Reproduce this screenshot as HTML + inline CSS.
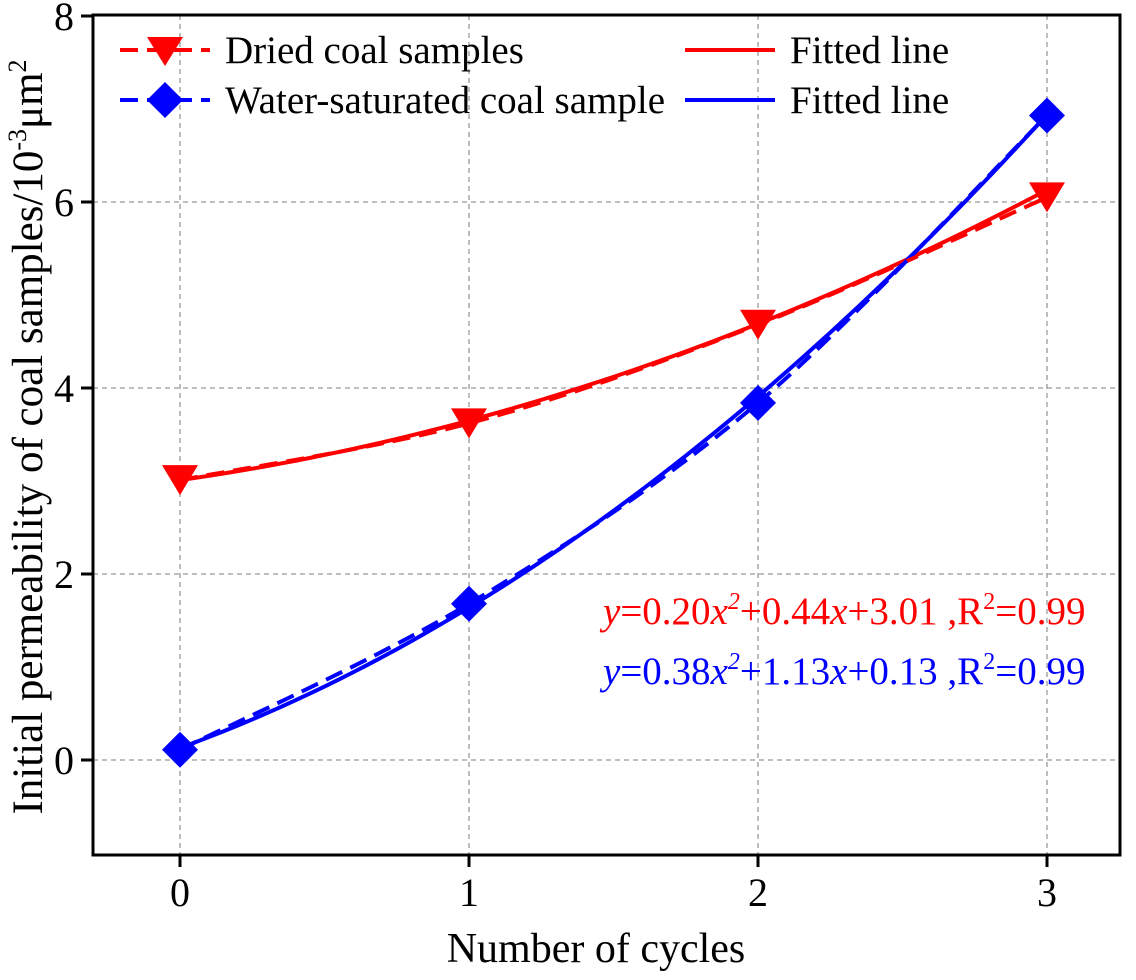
<!DOCTYPE html>
<html><head><meta charset="utf-8"><style>
html,body{margin:0;padding:0;background:#fff;}
svg text{font-family:"Liberation Serif",serif;}
</style></head><body>
<svg id="chart" width="1136" height="975" xmlns="http://www.w3.org/2000/svg">
<g id="grid"></g>
<g id="curves"></g>
<g id="marks"></g>
<rect x="93" y="15" width="1027" height="840" fill="none" stroke="#000" stroke-width="3"/>
<g id="ticks"></g>
<text x="596" y="962" font-size="42" text-anchor="middle">Number of cycles</text>
<text transform="translate(42,437) rotate(-90)" font-size="43" text-anchor="middle">Initial permeability of coal samples/10<tspan font-size="26" dy="-16">-3</tspan><tspan dy="16">μm</tspan><tspan font-size="26" dy="-16">2</tspan></text>
<g>
<g>
<line x1="120" y1="50" x2="210" y2="50" stroke="#f00" stroke-width="4" stroke-dasharray="18,9"/>
<polygon points="147,37 183,37 165,66" fill="#f00"/>
<text x="225" y="63" font-size="39">Dried coal samples</text></g>
<g>
<line x1="120" y1="100" x2="210" y2="100" stroke="#00f" stroke-width="4" stroke-dasharray="18,9"/>
<polygon points="165,82 183,100 165,118 147,100" fill="#00f"/>
<text x="225" y="113" font-size="39">Water-saturated coal sample</text></g>
<g>
<line x1="685" y1="50" x2="775" y2="50" stroke="#f00" stroke-width="4"/>
<text x="790" y="63" font-size="39">Fitted line</text></g>
<g>
<line x1="685" y1="100" x2="775" y2="100" stroke="#00f" stroke-width="4"/>
<text x="790" y="113" font-size="39">Fitted line</text></g>
</g>
<text x="603" y="624" font-size="39" fill="#f00"><tspan font-style="italic">y</tspan>=0.20<tspan font-style="italic">x</tspan><tspan font-size="24" dy="-15" font-style="italic">2</tspan><tspan dy="15">+0.44</tspan><tspan font-style="italic">x</tspan>+3.01 ,R<tspan font-size="24" dy="-15">2</tspan><tspan dy="15">=0.99</tspan></text>
<text x="603" y="684" font-size="39" fill="#00f"><tspan font-style="italic">y</tspan>=0.38<tspan font-style="italic">x</tspan><tspan font-size="24" dy="-15" font-style="italic">2</tspan><tspan dy="15">+1.13</tspan><tspan font-style="italic">x</tspan>+0.13 ,R<tspan font-size="24" dy="-15">2</tspan><tspan dy="15">=0.99</tspan></text>
</svg>
<script>
const cycles=[0,1,2,3];
const dried=[3.01,3.62,4.68,6.05];
const water=[0.11,1.68,3.84,6.93];
const driedFit=[0.20,0.44,3.01];
const waterFit=[0.38,1.13,0.13];
const xTicks=[0,1,2,3];
const yTicks=[0,2,4,6,8];
const NS="http://www.w3.org/2000/svg";
const xs=v=>180+v*289, ys=v=>760-v*93;
function mk(t,a,p){const e=document.createElementNS(NS,t);for(const k in a)e.setAttribute(k,a[k]);p.appendChild(e);return e;}
const grid=document.getElementById('grid'),ticks=document.getElementById('ticks'),curves=document.getElementById('curves'),marks=document.getElementById('marks');
xTicks.forEach(v=>{
 const g=mk('line',{x1:xs(v),x2:xs(v),y1:15,y2:855,stroke:'#999','stroke-width':1.3,'stroke-dasharray':'5,4'},grid);
 
 
 const t=mk('line',{x1:xs(v),x2:xs(v),y1:855,y2:867,stroke:'#000','stroke-width':3},ticks);
 
 
 const l=mk('text',{x:xs(v),y:906,'font-size':40,'text-anchor':'middle'},ticks);l.textContent=v;
 
 
});
yTicks.forEach(v=>{
 if(v<8){const g=mk('line',{x1:93,x2:1120,y1:ys(v),y2:ys(v),stroke:'#999','stroke-width':1.3,'stroke-dasharray':'5,4'},grid);
 
 }
 const t=mk('line',{x1:81,x2:93,y1:ys(v),y2:ys(v),stroke:'#000','stroke-width':3},ticks);
 
 
 const l=mk('text',{x:74,y:ys(v)+14,'font-size':40,'text-anchor':'end'},ticks);l.textContent=v;
 
 
});
function spline(vals){
 const p=cycles.map((c,i)=>[xs(c),ys(vals[i])]);
 let d='M'+p[0][0]+','+p[0][1];
 for(let i=0;i<p.length-1;i++){
  const p0=p[Math.max(i-1,0)],p1=p[i],p2=p[i+1],p3=p[Math.min(i+2,p.length-1)];
  const c1=[p1[0]+(p2[0]-p0[0])/6,p1[1]+(p2[1]-p0[1])/6],c2=[p2[0]-(p3[0]-p1[0])/6,p2[1]-(p3[1]-p1[1])/6];
  d+=' C'+c1+' '+c2+' '+p2;
 }
 return d;
}
function fit(c){let d='';for(let i=0;i<=60;i++){const x=3*i/60;d+=(i?'L':'M')+xs(x)+','+ys(c[0]*x*x+c[1]*x+c[2]);}return d;}
[[driedFit,'#f00','fit-line-dried'],[waterFit,'#00f','fit-line-water']].forEach(([c,col,n])=>{
 const e=mk('path',{d:fit(c),fill:'none',stroke:col,'stroke-width':4},curves);
 
 
});
[[dried,'#f00','dried-series-line'],[water,'#00f','water-series-line']].forEach(([v,col,n])=>{
 const e=mk('path',{d:spline(v),fill:'none',stroke:col,'stroke-width':4,'stroke-dasharray':'18,9'},curves);
 
 
});
cycles.forEach((c,i)=>{
 const x=xs(c),y=ys(dried[i]);
 const t=mk('polygon',{points:`${x-18},${y-15} ${x+18},${y-15} ${x},${y+15}`,fill:'#f00'},marks);
 
 
 const y2=ys(water[i]);
 const d=mk('polygon',{points:`${x},${y2-18} ${x+18},${y2} ${x},${y2+18} ${x-18},${y2}`,fill:'#00f'},marks);
 
 
});
</script>
</body></html>
